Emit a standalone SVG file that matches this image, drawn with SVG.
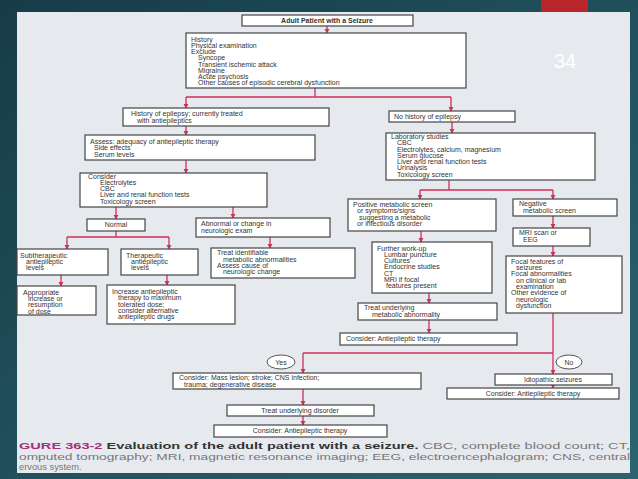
<svg xmlns="http://www.w3.org/2000/svg" width="638" height="479" viewBox="0 0 638 479">
<defs>
<linearGradient id="bg" x1="0" y1="0" x2="1" y2="1"><stop offset="0" stop-color="#163c47"/><stop offset="1" stop-color="#2b6470"/></linearGradient>
<marker id="ah" viewBox="0 0 6 6" refX="5" refY="3" markerWidth="4" markerHeight="4" orient="auto"><path d="M0,0L6,3L0,6z" fill="#d12f5a"/></marker>
<style>
.b{fill:#fff;stroke:#444;stroke-width:1.2}
.t{font-family:"Liberation Sans",Arial,sans-serif;font-size:7px;fill:#333}
.c{fill:none;stroke:#d12f5a;stroke-width:1.3}
.a{fill:none;stroke:#d12f5a;stroke-width:1.3;marker-end:url(#ah)}
.e{fill:#fff;stroke:#555;stroke-width:1}
</style>
</defs>
<rect width="638" height="479" fill="url(#bg)"/>
<rect x="17" y="12" width="613" height="461" fill="#e6eaee"/>
<rect x="541" y="0" width="47" height="12" fill="#b8262b"/>
<text x="565" y="68" font-family="'Liberation Sans',Arial,sans-serif" font-size="20" fill="#fff" text-anchor="middle">34</text>

<g id="connectors">
<path class="a" d="M327,25V33"/>
<path class="c" d="M315,88V97M186,97H451"/>
<path class="a" d="M186,97V108"/><path class="a" d="M451,97V111"/>
<path class="a" d="M186,126V135"/><path class="a" d="M452,122V133"/>
<path class="a" d="M186,160V173"/>
<path class="a" d="M116,207V219"/><path class="a" d="M233,207V218"/>
<path class="c" d="M116,231V237M67,237H169"/>
<path class="a" d="M67,237V249"/><path class="a" d="M169,237V249"/>
<path class="a" d="M270,237V248"/>
<path class="a" d="M61,275V286"/><path class="a" d="M167,275V285"/>
<path class="c" d="M449,180V190M420,190H553"/>
<path class="a" d="M420,190V199"/><path class="a" d="M553,190V199"/>
<path class="a" d="M553,216V228"/><path class="a" d="M553,246V256"/>
<path class="a" d="M421,231V242"/><path class="a" d="M429,293V303"/><path class="a" d="M429,320V333"/>
<path class="a" d="M553,313V374"/>
<path class="c" d="M303,353H553"/>
<path class="a" d="M303,353V373"/>
<path class="a" d="M303,389V405"/><path class="a" d="M303,416V425"/>
<path class="a" d="M553,385V388"/>
</g>

<g id="n1"><rect class="b" x="242" y="15" width="171" height="11"/><text class="t" x="327" y="23" text-anchor="middle" font-weight="bold">Adult Patient with a Seizure</text></g>
<g id="n2"><rect class="b" x="186" y="33" width="280" height="55"/><text class="t"><tspan x="191" y="42">History</tspan><tspan x="191" y="48">Physical examination</tspan><tspan x="191" y="54">Exclude</tspan><tspan x="198" y="60">Syncope</tspan><tspan x="198" y="67">Transient ischemic attack</tspan><tspan x="198" y="73">Migraine</tspan><tspan x="198" y="79">Acute psychosis</tspan><tspan x="198" y="85">Other causes of episodic cerebral dysfunction</tspan></text></g>
<g id="n3"><rect class="b" x="123" y="108" width="206" height="18"/><text class="t"><tspan x="131" y="116">History of epilepsy; currently treated</tspan><tspan x="137" y="123">with antiepileptics</tspan></text></g>
<g id="n4"><rect class="b" x="389" y="111" width="126" height="11"/><text class="t" x="394" y="119">No history of epilepsy</text></g>
<g id="n5"><rect class="b" x="85" y="135" width="230" height="25"/><text class="t"><tspan x="90" y="144">Assess: adequacy of antiepileptic therapy</tspan><tspan x="94" y="150">Side effects</tspan><tspan x="94" y="157">Serum levels</tspan></text></g>
<g id="n6"><rect class="b" x="386" y="133" width="209" height="47"/><text class="t"><tspan x="391" y="139">Laboratory studies</tspan><tspan x="397" y="145">CBC</tspan><tspan x="397" y="152">Electrolytes, calcium, magnesium</tspan><tspan x="397" y="158">Serum glucose</tspan><tspan x="397" y="164">Liver and renal function tests</tspan><tspan x="397" y="170">Urinalysis</tspan><tspan x="397" y="177">Toxicology screen</tspan></text></g>
<g id="n7"><rect class="b" x="80" y="173" width="187" height="34"/><text class="t"><tspan x="88" y="179">Consider</tspan><tspan x="100" y="185">Electrolytes</tspan><tspan x="100" y="191">CBC</tspan><tspan x="100" y="197">Liver and renal function tests</tspan><tspan x="100" y="204">Toxicology screen</tspan></text></g>
<g id="n8"><rect class="b" x="87" y="219" width="58" height="12"/><text class="t" x="116" y="227" text-anchor="middle">Normal</text></g>
<g id="n9"><rect class="b" x="196" y="218" width="134" height="19"/><text class="t"><tspan x="201" y="226">Abnormal or change in</tspan><tspan x="201" y="233">neurologic exam</tspan></text></g>
<g id="n10"><rect class="b" x="17" y="249" width="91" height="26"/><text class="t"><tspan x="20" y="258">Subtherapeutic</tspan><tspan x="26" y="264">antiepileptic</tspan><tspan x="26" y="270">levels</tspan></text></g>
<g id="n11"><rect class="b" x="121" y="249" width="77" height="26"/><text class="t"><tspan x="126" y="258">Therapeutic</tspan><tspan x="131" y="264">antiepileptic</tspan><tspan x="131" y="270">levels</tspan></text></g>
<g id="n12"><rect class="b" x="211" y="248" width="144" height="30"/><text class="t"><tspan x="217" y="255">Treat identifiable</tspan><tspan x="223" y="262">metabolic abnormalities</tspan><tspan x="217" y="268">Assess cause of</tspan><tspan x="223" y="274">neurologic change</tspan></text></g>
<g id="n13"><rect class="b" x="17" y="286" width="79" height="29"/><text class="t"><tspan x="23" y="295">Appropriate</tspan><tspan x="28" y="301">increase or</tspan><tspan x="28" y="307">resumption</tspan><tspan x="28" y="314">of dose</tspan></text></g>
<g id="n14"><rect class="b" x="107" y="285" width="128" height="39"/><text class="t"><tspan x="112" y="294">Increase antiepileptic</tspan><tspan x="118" y="300">therapy to maximum</tspan><tspan x="118" y="307">tolerated dose;</tspan><tspan x="118" y="313">consider alternative</tspan><tspan x="118" y="319">antiepileptic drugs</tspan></text></g>
<g id="n15"><rect class="b" x="348" y="199" width="148" height="32"/><text class="t"><tspan x="353" y="207">Positive metabolic screen</tspan><tspan x="357" y="213">or symptoms/signs</tspan><tspan x="359" y="220">suggesting a metabolic</tspan><tspan x="357" y="226">or infectious disorder</tspan></text></g>
<g id="n16"><rect class="b" x="513" y="199" width="104" height="17"/><text class="t"><tspan x="519" y="206">Negative</tspan><tspan x="523" y="213">metabolic screen</tspan></text></g>
<g id="n17"><rect class="b" x="513" y="228" width="77" height="18"/><text class="t"><tspan x="519" y="235">MRI scan or</tspan><tspan x="523" y="242">EEG</tspan></text></g>
<g id="n18"><rect class="b" x="372" y="242" width="120" height="51"/><text class="t"><tspan x="377" y="251">Further work-up</tspan><tspan x="384" y="257">Lumbar puncture</tspan><tspan x="384" y="263">Cultures</tspan><tspan x="384" y="269">Endocrine studies</tspan><tspan x="384" y="276">CT</tspan><tspan x="384" y="282">MRI if focal</tspan><tspan x="386" y="288">features present</tspan></text></g>
<g id="n19"><rect class="b" x="506" y="256" width="116" height="57"/><text class="t"><tspan x="511" y="264">Focal features of</tspan><tspan x="516" y="270">seizures</tspan><tspan x="511" y="276">Focal abnormalities</tspan><tspan x="516" y="283">on clinical or lab</tspan><tspan x="516" y="289">examination</tspan><tspan x="511" y="295">Other evidence of</tspan><tspan x="516" y="302">neurologic</tspan><tspan x="516" y="308">dysfunction</tspan></text></g>
<g id="n20"><rect class="b" x="358" y="303" width="139" height="17"/><text class="t"><tspan x="364" y="310">Treat underlying</tspan><tspan x="372" y="317">metabolic abnormality</tspan></text></g>
<g id="n21"><rect class="b" x="340" y="333" width="177" height="12"/><text class="t" x="346" y="341">Consider: Antiepileptic therapy</text></g>
<g id="yes"><ellipse class="e" cx="281" cy="362" rx="14" ry="7"/><text class="t" x="281" y="364.5" text-anchor="middle">Yes</text></g>
<g id="no"><ellipse class="e" cx="569" cy="362" rx="13" ry="7"/><text class="t" x="569" y="364.5" text-anchor="middle">No</text></g>
<g id="n22"><rect class="b" x="173" y="373" width="248" height="16"/><text class="t"><tspan x="179" y="380">Consider: Mass lesion; stroke; CNS infection;</tspan><tspan x="184" y="387">trauma; degenerative disease</tspan></text></g>
<g id="n23"><rect class="b" x="495" y="374" width="117" height="11"/><text class="t" x="553" y="382" text-anchor="middle">Idiopathic seizures</text></g>
<g id="n24"><rect class="b" x="227" y="405" width="147" height="11"/><text class="t" x="300" y="413" text-anchor="middle">Treat underlying disorder</text></g>
<g id="n25"><rect class="b" x="447" y="388" width="172" height="11"/><text class="t" x="533" y="396" text-anchor="middle">Consider: Antiepileptic therapy</text></g>
<g id="n26"><rect class="b" x="214" y="425" width="173" height="12"/><text class="t" x="300" y="433" text-anchor="middle">Consider: Antiepileptic therapy</text></g>

<g font-family="'Liberation Sans',Arial,sans-serif" font-size="9.3" fill="#777">
<text x="19" y="449" textLength="611" lengthAdjust="spacingAndGlyphs"><tspan fill="#a0307a" font-weight="bold">GURE 363-2 </tspan><tspan fill="#333" font-weight="bold">Evaluation of the adult patient with a seizure.</tspan> CBC, complete blood count; CT,</text>
<text x="19" y="459.5" textLength="611" lengthAdjust="spacingAndGlyphs">omputed tomography; MRI, magnetic resonance imaging; EEG, electroencephalogram; CNS, central</text>
<text x="19" y="470">ervous system.</text>
</g>
</svg>
